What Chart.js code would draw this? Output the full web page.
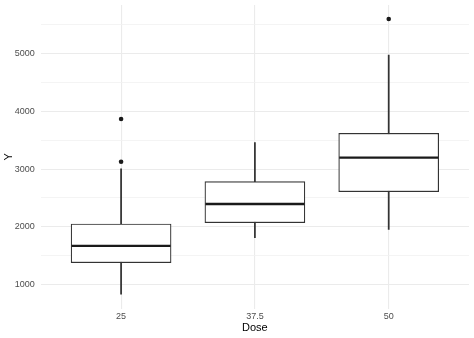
<!DOCTYPE html>
<html>
<head>
<meta charset="utf-8">
<script src="https://cdn.jsdelivr.net/npm/chart.js@4"></script>
<style>
  body { margin: 0; background: #fff; }
  canvas { display: block; }
</style>
</head>
<body>
<canvas id="boxChart" width="474" height="338"></canvas>
<script>
// values
const doses = ['25', '37.5', '50'];
const lowerWhisker = [834, 1813, 1958];
const q1 = [1380, 2073, 2609];
const median = [1670, 2396, 3197];
const q3 = [2050, 2782, 3619];
const upperWhisker = [3003, 3457, 4974];
const outliers = [[3128, 3867], [], [5597]];
const yMajorTicks = [1000, 2000, 3000, 4000, 5000];
const yMinorTicks = [1500, 2500, 3500, 4500, 5500];

document.addEventListener('DOMContentLoaded', function () {
    const ctx = document.getElementById('boxChart').getContext('2d');
    const boxColor = '#333333';

    const whiskerData = doses.map((d, i) => ({ x: i + 1, y: [lowerWhisker[i], upperWhisker[i]] }));
    const boxData = doses.map((d, i) => ({ x: i + 1, y: [q1[i], q3[i]] }));
    const medianData = doses.map((d, i) => ({ x: i + 1, y: median[i] }));
    const outlierData = [];
    outliers.forEach((list, i) => list.forEach(v => outlierData.push({ x: i + 1, y: v })));

    new Chart(ctx, {
        type: 'bar',
        data: {
            datasets: [
                {
                    label: 'whiskers',
                    data: whiskerData,
                    backgroundColor: boxColor,
                    borderWidth: 0,
                    barThickness: 1.1,
                    grouped: false,
                    order: 3
                },
                {
                    label: 'boxes',
                    data: boxData,
                    backgroundColor: '#ffffff',
                    borderColor: boxColor,
                    borderWidth: 1.2,
                    borderSkipped: false,
                    barThickness: 100,
                    grouped: false,
                    order: 2
                },
                {
                    type: 'scatter',
                    label: 'median',
                    data: medianData,
                    pointStyle: 'line',
                    pointRadius: 49.5,
                    pointHoverRadius: 49.5,
                    borderColor: '#1a1a1a',
                    borderWidth: 2.3,
                    order: 1
                },
                {
                    type: 'scatter',
                    label: 'outliers',
                    data: outlierData,
                    pointStyle: 'circle',
                    pointRadius: 2.3,
                    backgroundColor: '#1a1a1a',
                    borderWidth: 0,
                    order: 0
                }
            ]
        },
        options: {
            responsive: false,
            animation: false,
            layout: {
                autoPadding: false,
                padding: { left: 0, right: 5, top: 5, bottom: 0 }
            },
            plugins: {
                legend: { display: false },
                tooltip: { enabled: false }
            },
            scales: {
                x: {
                    type: 'linear',
                    offset: false,
                    min: 0.4,
                    max: 3.6,
                    afterBuildTicks: function (scale) {
                        scale.ticks = doses.map((d, i) => ({ value: i + 1 }));
                    },
                    afterFit: function (scale) {
                        scale.height = 29.1;
                        scale.paddingLeft = 0;
                        scale.paddingRight = 0;
                    },
                    border: { display: false },
                    grid: {
                        offset: false,
                        color: '#ebebeb',
                        lineWidth: 1.1,
                        drawTicks: false
                    },
                    ticks: {
                        padding: 2,
                        color: '#4d4d4d',
                        font: { family: 'Liberation Sans', size: 9 },
                        callback: function (value) {
                            return doses[value - 1];
                        }
                    },
                    title: {
                        display: true,
                        text: 'Dose',
                        color: '#000',
                        font: { family: 'Liberation Sans', size: 11 },
                        padding: { top: 0, bottom: 3.5 }
                    }
                },
                y: {
                    min: 581,
                    max: 5839,
                    afterBuildTicks: function (scale) {
                        scale.ticks = yMajorTicks.concat(yMinorTicks)
                            .sort((a, b) => a - b)
                            .map(v => ({ value: v }));
                    },
                    afterFit: function (scale) {
                        scale.width = 40.8;
                        scale.paddingTop = 0;
                        scale.paddingBottom = 0;
                    },
                    border: { display: false },
                    grid: {
                        drawTicks: false,
                        color: function (c) {
                            return yMajorTicks.includes(c.tick.value) ? '#ebebeb' : '#f1f1f1';
                        },
                        lineWidth: function (c) {
                            return yMajorTicks.includes(c.tick.value) ? 1.1 : 0.8;
                        }
                    },
                    ticks: {
                        padding: 6,
                        color: '#4d4d4d',
                        font: { family: 'Liberation Sans', size: 9 },
                        callback: function (value) {
                            return yMajorTicks.includes(value) ? String(value) : '';
                        }
                    },
                    title: {
                        display: true,
                        text: 'Y',
                        color: '#000',
                        font: { family: 'Liberation Sans', size: 11 },
                        padding: { top: 2, bottom: 0 }
                    }
                }
            }
        }
    });
});
</script>
</body>
</html>
